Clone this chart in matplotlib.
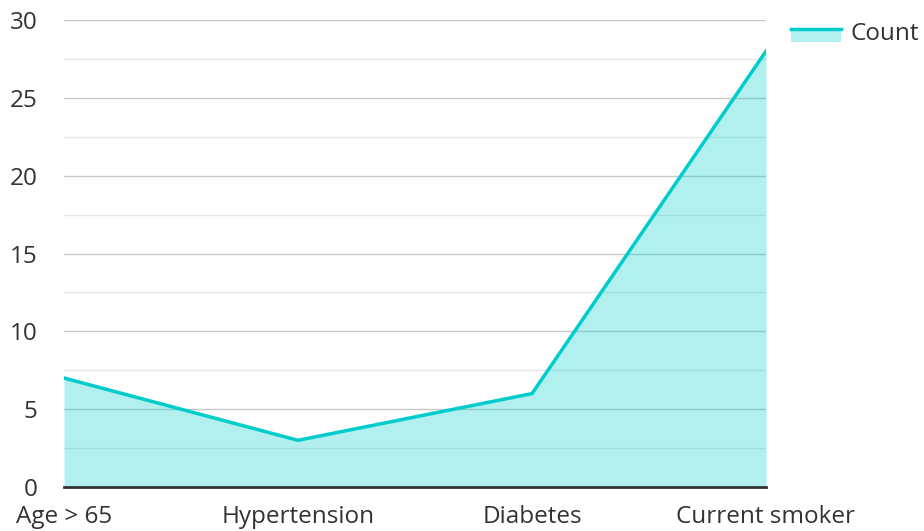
import matplotlib
matplotlib.use("Agg")
import matplotlib.pyplot as plt
from matplotlib.lines import Line2D
from matplotlib.patches import Patch
from matplotlib.legend_handler import HandlerBase

categories = ["Age > 65", "Hypertension", "Diabetes", "Current smoker"]
counts = [7, 3, 6, 28]
series_name = "Count"
y_ticks = [0, 5, 10, 15, 20, 25, 30]

plt.rcParams['font.family'] = ['Open Sans', 'DejaVu Sans']
line_color = '#00cccc'
text_color = '#333333'
fs = 17.5

fig = plt.figure(figsize=(9.24, 5.31), dpi=100)
ax = fig.add_axes([64/924, 1-487/531, (766-64)/924, (487-20)/531])

x = list(range(len(categories)))
ax.set_xlim(0, len(categories)-1)
ax.set_ylim(0, 30)

for v in [i*2.5 for i in range(1, 12, 2)]:
    ax.axhline(v, color='#e6e6e6', lw=1, zorder=1)
for v in y_ticks[1:]:
    ax.axhline(v, color='#c8c8c8', lw=1, zorder=1)

ax.fill_between(x, counts, 0, color=line_color, alpha=0.3, lw=0, zorder=2)
ax.plot(x, counts, color=line_color, lw=2.5, zorder=3, solid_joinstyle='miter')
ax.axhline(0, color='#333333', lw=2, zorder=4, clip_on=False)

for s in ax.spines.values():
    s.set_visible(False)
ax.set_xticks(x)
ax.set_xticklabels(categories)
ax.set_yticks(y_ticks)
ax.tick_params(axis='both', length=0, labelsize=fs, labelcolor=text_color)
ax.tick_params(axis='y', pad=19)
ax.tick_params(axis='x', pad=13)

class Handler(HandlerBase):
    def create_artists(self, legend, orig, xd, yd, w, h, fontsize, trans):
        top = yd + h
        p = plt.Rectangle((xd, yd), w, h, facecolor=line_color, alpha=0.3, lw=0, transform=trans)
        l = Line2D([xd, xd+w], [top, top], color=line_color, lw=2.5, transform=trans)
        return [p, l]

handle = Patch()
fig.legend([handle], [series_name], handler_map={Patch: Handler()},
           loc='upper left', bbox_to_anchor=(791/924, 1-22/531), frameon=False,
           fontsize=fs, labelcolor=text_color, handlelength=2.05, handleheight=0.45,
           handletextpad=0.4, borderpad=0, borderaxespad=0)

fig.savefig("out.png", dpi=100)
